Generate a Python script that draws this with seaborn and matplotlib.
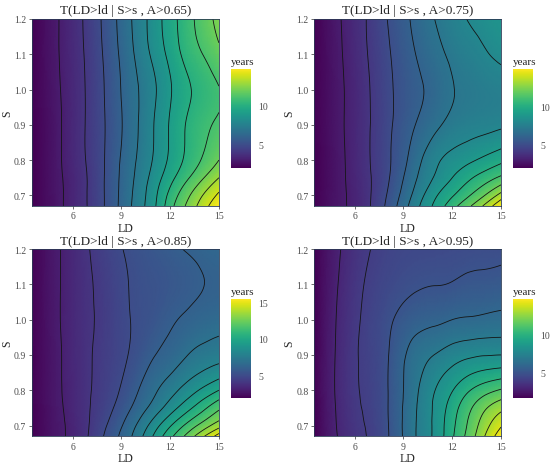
import numpy as np
import matplotlib
matplotlib.use("Agg")
import matplotlib.pyplot as plt
import matplotlib.tri as mtri
import seaborn as sns

# grid (years), rows follow s from low to high
ld = [3.5, 5, 6.5, 8, 9.5, 11, 12, 13, 14, 15]
s = [0.67, 0.70, 0.75, 0.80, 0.90, 1.00, 1.10, 1.20]

t_065 = [
    [2.0, 2.75, 3.70, 5.05, 6.85, 8.80, 10.60, 12.10, 13.50, 14.80],
    [2.0, 2.75, 3.70, 5.05, 6.80, 8.70, 10.30, 11.70, 13.00, 14.20],
    [2.0, 2.78, 3.70, 5.05, 6.70, 8.40, 9.65, 10.80, 11.90, 13.00],
    [2.0, 2.80, 3.78, 5.03, 6.60, 8.10, 9.20, 10.20, 11.10, 12.00],
    [2.0, 2.80, 3.80, 5.00, 6.45, 8.00, 9.10, 10.05, 10.70, 11.20],
    [2.0, 2.85, 3.80, 5.05, 6.50, 7.85, 8.90, 9.80, 10.40, 10.95],
    [2.0, 2.90, 3.85, 5.15, 6.70, 8.25, 9.30, 10.30, 11.00, 11.75],
    [2.0, 2.90, 3.90, 5.25, 6.85, 8.45, 9.55, 10.55, 11.45, 12.35],
]
t_075 = [
    [1.95, 2.75, 3.60, 5.20, 7.30, 9.30, 10.60, 11.80, 13.20, 14.90],
    [1.95, 2.75, 3.60, 5.05, 7.00, 8.90, 9.90, 10.90, 12.00, 13.40],
    [1.95, 2.75, 3.65, 4.85, 6.60, 8.15, 9.00, 9.80, 10.50, 11.20],
    [1.95, 2.75, 3.70, 4.80, 6.30, 7.80, 8.35, 8.80, 9.25, 9.75],
    [1.95, 2.80, 3.70, 4.75, 5.85, 6.80, 7.30, 7.55, 7.70, 7.85],
    [1.95, 2.80, 3.70, 4.75, 5.65, 6.40, 6.95, 7.20, 7.40, 7.55],
    [1.95, 2.85, 3.80, 4.85, 5.85, 6.70, 7.20, 7.55, 7.90, 8.20],
    [1.95, 2.90, 3.85, 5.00, 6.07, 7.05, 7.55, 8.05, 8.35, 8.60],
]
t_085 = [
    [1.85, 2.70, 3.60, 5.10, 6.80, 9.10, 10.70, 12.20, 13.80, 15.50],
    [1.85, 2.70, 3.60, 4.90, 6.50, 8.50, 9.90, 11.20, 12.40, 13.60],
    [1.90, 2.75, 3.65, 4.60, 5.90, 7.40, 8.50, 9.60, 10.70, 11.80],
    [1.90, 2.80, 3.65, 4.45, 5.50, 6.80, 7.60, 8.40, 9.20, 10.00],
    [1.90, 2.80, 3.65, 4.35, 5.05, 5.95, 6.40, 6.95, 7.35, 7.60],
    [1.90, 2.85, 3.65, 4.30, 4.98, 5.45, 5.85, 6.15, 6.40, 6.60],
    [1.90, 2.85, 3.65, 4.35, 5.02, 5.35, 5.55, 5.75, 5.98, 6.10],
    [1.90, 2.85, 3.70, 4.50, 5.15, 5.55, 5.80, 6.05, 6.25, 6.40],
]
t_095 = [
    [1.7, 3.05, 3.90, 4.90, 6.70, 8.30, 9.85, 11.35, 13.00, 14.60],
    [1.7, 3.10, 3.95, 4.92, 6.70, 8.30, 9.75, 11.15, 12.60, 13.90],
    [1.7, 3.15, 4.03, 4.95, 6.65, 8.25, 9.50, 10.75, 11.85, 12.70],
    [1.7, 3.20, 4.08, 4.95, 6.55, 8.05, 8.95, 9.90, 10.60, 11.10],
    [1.7, 3.18, 4.12, 4.92, 6.30, 7.05, 7.50, 7.80, 7.95, 8.00],
    [1.7, 3.12, 4.08, 4.80, 5.50, 5.80, 6.00, 6.10, 6.20, 6.30],
    [1.7, 3.02, 3.97, 4.50, 4.85, 4.98, 5.05, 5.20, 5.25, 5.35],
    [1.7, 2.90, 3.80, 4.30, 4.50, 4.55, 4.62, 4.67, 4.72, 4.75],
]
a_labels = ["0.65", "0.75", "0.85", "0.95"]
fields = [t_065, t_075, t_085, t_095]

sns.set_theme(style="white")
plt.rcParams["font.family"] = ["Liberation Serif", "DejaVu Serif"]
cmap = sns.color_palette("viridis", as_cmap=True)

# triangulate the grid in unit coordinates so the cubic refinement is not squashed
x = np.asarray(ld, dtype=float)
y = np.asarray(s, dtype=float)
sx = x.max() - x.min()
sy = y.max() - y.min()
xx, yy = np.meshgrid(x, y)
nx = len(x)
tris = []
for j in range(len(y) - 1):
    for i in range(nx - 1):
        k = j * nx + i
        tris.append([k, k + 1, k + nx + 1])
        tris.append([k, k + nx + 1, k + nx])
base = mtri.Triangulation((xx.ravel() - x.min()) / sx, (yy.ravel() - y.min()) / sy, tris)
refiner = mtri.UniformTriRefiner(base)

fig = plt.figure(figsize=(5.5, 4.64), dpi=100)
positions = [(0.058, 0.554), (0.571, 0.554), (0.058, 0.058), (0.571, 0.058)]
w, h = 0.340, 0.403

for (left, bottom), a, field in zip(positions, a_labels, fields):
    z = np.asarray(field, dtype=float)
    tri_r, z_r = refiner.refine_field(z.ravel(), subdiv=4)
    tri_d = mtri.Triangulation(tri_r.x * sx + x.min(), tri_r.y * sy + y.min(), tri_r.triangles)
    vmin, vmax = z.min(), z.max()

    ax = fig.add_axes([left, bottom, w, h])
    pc = ax.tripcolor(tri_d, z_r, shading="gouraud", cmap=cmap, vmin=vmin, vmax=vmax)
    ax.tricontour(tri_d, z_r, levels=np.arange(3, 16), colors="#151515", linewidths=0.6)
    ax.set_xlim(x.min(), x.max())
    ax.set_ylim(y.min(), y.max())
    ax.set_xticks([6, 9, 12, 15])
    ax.set_yticks([0.7, 0.8, 0.9, 1.0, 1.1, 1.2])
    ax.set_yticklabels(["0.7", "0.8", "0.9", "1.0", "1.1", "1.2"])
    ax.tick_params(labelsize=7, labelcolor="#4d4d4d", length=2.5, width=0.5,
                   color="#333333", pad=1.5, bottom=True, left=True)
    for sp in ax.spines.values():
        sp.set_linewidth(0.6)
        sp.set_color("#2b3a55")
    ax.set_xlabel("LD", fontsize=8.5, labelpad=1)
    ax.set_ylabel("S", fontsize=8.5, labelpad=0.5)
    ax.set_title(f"T(LD>ld | S>s , A>{a})", fontsize=9.5, pad=4)

    cax = fig.add_axes([left + 0.362, bottom + 0.082, 0.0364, 0.214])
    cb = fig.colorbar(pc, cax=cax)
    cb.outline.set_visible(False)
    cb.set_ticks([v for v in (5, 10, 15) if vmin <= v <= vmax])
    cax.tick_params(labelsize=7, labelcolor="#4d4d4d", direction="in", color="white",
                    length=3, width=0.5, left=True, right=True, pad=5)
    fig.text(left + 0.362, bottom + 0.082 + 0.214 + 0.006, "years", fontsize=8,
             ha="left", va="bottom")

fig.savefig("out.png", dpi=100)
